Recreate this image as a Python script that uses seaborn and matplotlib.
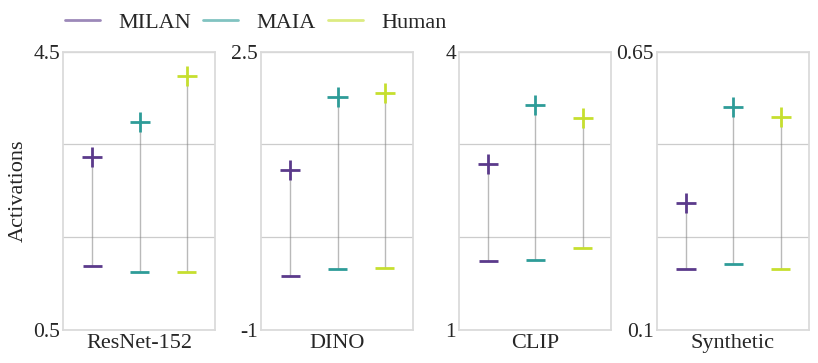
import numpy as np
import pandas as pd
import matplotlib
matplotlib.use('Agg')
import matplotlib.pyplot as plt
from matplotlib.lines import Line2D
import seaborn as sns

# 모델별 활성값 (최대 / 최소)
models = ['ResNet-152', 'DINO', 'CLIP', 'Synthetic']
methods = ['MILAN', 'MAIA', 'Human']
max_vals = [[2.98, 3.49, 4.15],
            [1.01, 1.93, 1.98],
            [2.79, 3.42, 3.28],
            [0.351, 0.541, 0.521]]
min_vals = [[1.42, 1.33, 1.33],
            [-0.32, -0.23, -0.22],
            [1.74, 1.75, 1.88],
            [0.221, 0.231, 0.221]]
y_limits = [(0.5, 4.5), (-1, 2.5), (1, 4), (0.1, 0.65)]
y_labels = [('0.5', '4.5'), ('-1', '2.5'), ('1', '4'), ('0.1', '0.65')]
colors = ['#5b3a8b', '#2e9c98', '#c6df2f']

sns.set_theme(style='whitegrid')
plt.rcParams['font.family'] = ['Liberation Serif', 'DejaVu Serif']
plt.rcParams['axes.edgecolor'] = '#dadada'
plt.rcParams['grid.color'] = '#cccccc'
plt.rcParams['grid.linewidth'] = 0.9

fig, axes = plt.subplots(1, 4, figsize=(8.18, 3.63), dpi=100)
fig.subplots_adjust(left=0.077, right=0.989, top=0.858, bottom=0.091, wspace=0.30)

pal = dict(zip(methods, colors))
for i, ax in enumerate(axes):
    df = pd.DataFrame({'method': methods, 'max': max_vals[i], 'min': min_vals[i]})
    # 최대-최소 연결선
    ax.vlines(range(len(methods)), df['min'], df['max'], color='gray', alpha=0.55, lw=1, zorder=1)
    sns.scatterplot(data=df, x='method', y='max', hue='method', palette=pal, marker='+',
                    s=210, linewidth=2.0, legend=False, ax=ax, zorder=3)
    sns.scatterplot(data=df, x='method', y='min', hue='method', palette=pal, marker='_',
                    s=190, linewidth=2.0, legend=False, ax=ax, zorder=3)
    lo, hi = y_limits[i]
    ax.set_ylim(lo, hi)
    ax.set_xlim(-0.62, 2.6)
    ax.set_yticks(np.linspace(lo, hi, 4))
    ax.set_yticklabels([y_labels[i][0], '', '', y_labels[i][1]], fontsize=15.5)
    ax.set_xticks([])
    ax.grid(axis='x', visible=False)
    ax.set_xlabel(models[i], fontsize=16, labelpad=3)
    ax.set_ylabel('Activations' if i == 0 else '', fontsize=16)
    ax.tick_params(axis='y', pad=2, length=0)

handles = [Line2D([0], [0], color=c, lw=2, alpha=0.6) for c in colors]
fig.legend(handles, methods, loc='center left', bbox_to_anchor=(0.079, 0.937), ncol=3,
           frameon=False, fontsize=16, handlelength=1.6, handletextpad=0.8,
           columnspacing=0.55, borderaxespad=0, borderpad=0)

fig.savefig('out.png', dpi=100)
